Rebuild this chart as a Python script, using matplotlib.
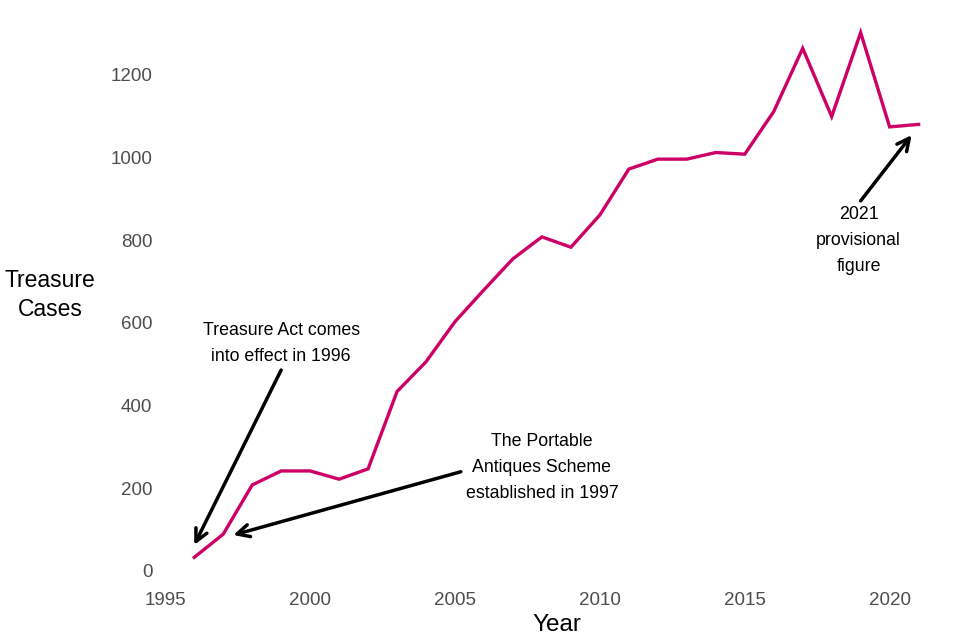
import matplotlib
matplotlib.use("Agg")
import matplotlib.pyplot as plt

years = list(range(1996, 2022))
cases = [33, 89, 208, 242, 242, 222, 247, 434, 506, 603, 680, 755, 808, 783,
         861, 972, 996, 996, 1012, 1008, 1111, 1264, 1099, 1302, 1074, 1080]

x_ticks = [1995, 2000, 2005, 2010, 2015, 2020]
y_ticks = [0, 200, 400, 600, 800, 1000, 1200]

plt.rcParams['font.family'] = ['Liberation Sans', 'DejaVu Sans']

fig = plt.figure(figsize=(9.6, 6.4), dpi=100)
ax = fig.add_axes([0.1646, 0.0852, 0.830, 0.9065])
ax.plot(years, cases, color='#CC0066', linewidth=2.4, solid_joinstyle='miter')

ax.set_xlim(1994.75, 2022.25)
ax.set_ylim(-35, 1368)
ax.set_xticks(x_ticks)
ax.set_yticks(y_ticks)
ax.tick_params(length=0, labelsize=13.5, labelcolor='#4d4d4d')
ax.tick_params(axis='y', pad=4)
ax.tick_params(axis='x', pad=5)
for s in ax.spines.values():
    s.set_visible(False)

ax.set_xlabel('Year', fontsize=17.5, labelpad=3)
fig.text(50/960, 1 - 295/640, 'Treasure\nCases', fontsize=16.5, ha='center', va='center',
         linespacing=1.3)

akw = dict(arrowstyle='->', color='black', lw=2.5, mutation_scale=22, shrinkA=0, shrinkB=0)
ax.annotate('', xy=(1996.0, 63), xytext=(1999.0, 486), arrowprops=akw)
ax.text(1999.0, 551, 'Treasure Act comes\ninto effect in 1996', ha='center', va='center',
        fontsize=12.8, linespacing=1.7)

ax.annotate('', xy=(1997.35, 87), xytext=(2005.2, 240), arrowprops=akw)
ax.text(2008.0, 251, 'The Portable\nAntiques Scheme\nestablished in 1997', ha='center',
        va='center', fontsize=12.8, linespacing=1.7)

ax.annotate('', xy=(2020.76, 1054), xytext=(2019.0, 895), arrowprops=akw)
ax.text(2018.93, 800, '2021\nprovisional\nfigure', ha='center', va='center',
        fontsize=12.8, linespacing=1.7)

fig.savefig('out.png', dpi=100)
